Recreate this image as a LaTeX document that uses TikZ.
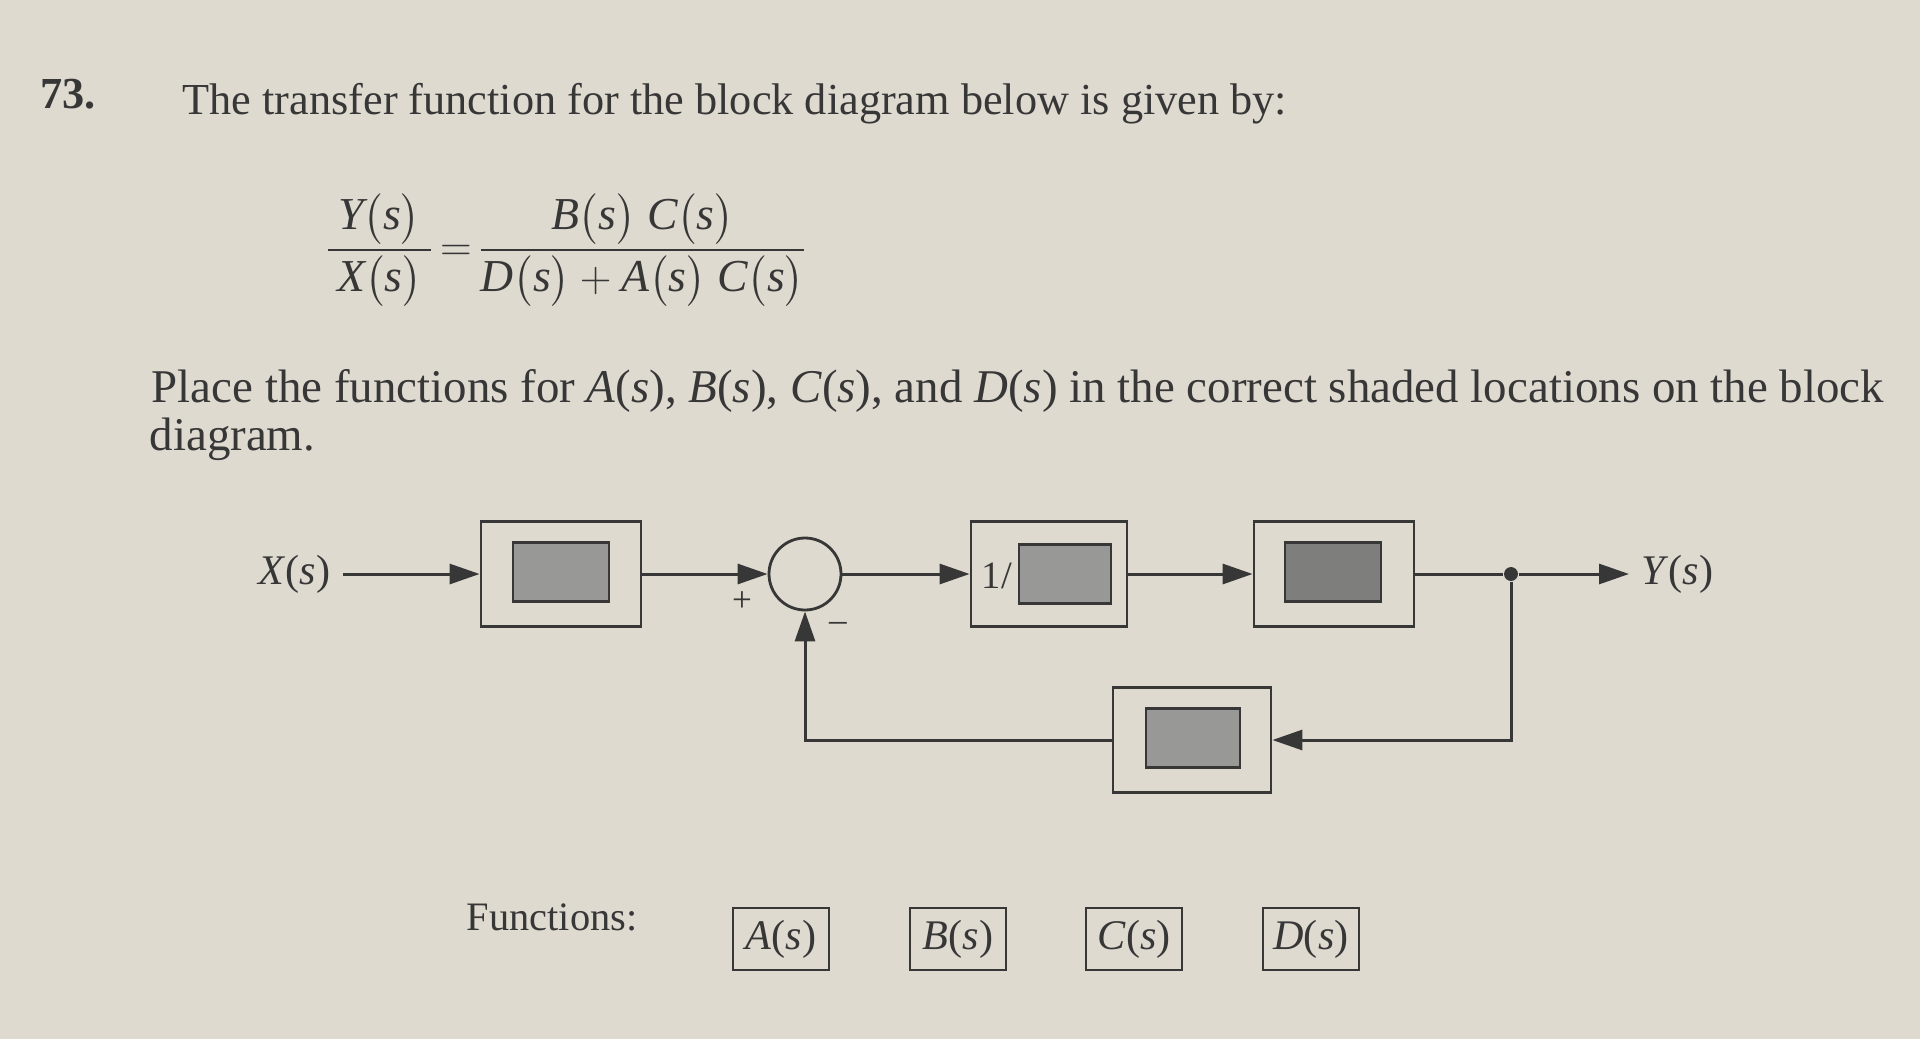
\documentclass[tikz,border=0pt]{standalone}
\usepackage{amsmath}
\usepackage{fontspec}
\setmainfont{Liberation Serif}
\usetikzlibrary{arrows.meta}

\definecolor{paper}{RGB}{223,218,208}
\definecolor{ink}{RGB}{55,55,55}
\definecolor{shade}{RGB}{152,152,150}
\definecolor{shadedark}{RGB}{126,126,124}

\newcommand{\fnof}[1]{\textit{#1}(\textit{s})}
\newcommand{\bigfn}[1]{\textit{#1}\bigl(\textit{s}\bigr)}

\begin{document}
\begin{tikzpicture}[
    outerblk/.style={draw=ink,line width=0.8pt,minimum width=1.6cm,minimum height=1.05cm,inner sep=0pt},
    grayblk/.style={draw=ink,fill=shade,line width=0.8pt,minimum width=0.96cm,minimum height=0.59cm,inner sep=0pt},
    sumnode/.style={draw=ink,line width=0.8pt,circle,minimum size=0.72cm,inner sep=0pt},
    fnbox/.style={draw=ink,line width=0.8pt,minimum width=0.96cm,minimum height=0.62cm,inner sep=0pt,text=ink,font=\fontsize{12}{14}\selectfont},
    lbl/.style={text=ink,inner sep=1.2mm,font=\fontsize{12}{14}\selectfont},
    txt/.style={text=ink,inner sep=0pt,font=\fontsize{12.6}{15}\selectfont},
    wire/.style={draw=ink,line width=0.85pt},
    arr/.style={wire,-{Triangle[length=3mm,width=2mm]}}
  ]
  \fill[paper] (0,0) rectangle (19.2,-10.39);

  % question text
  \node[txt,anchor=base west,font=\fontsize{12.6}{15}\selectfont\bfseries] (qnum) at (0.40,-1.08) {73.};
  \node[txt,anchor=base west] (title) at (1.82,-1.14) {The transfer function for the block diagram below is given by:};
  \node[txt,font=\fontsize{13}{16}\selectfont] (eq) at (5.66,-2.50)
    {$\dfrac{\:\bigfn{Y}\:}{\:\bigfn{X}\:}\!=\!\dfrac{\bigfn{B}\;\bigfn{C}}{\bigfn{D}+\bigfn{A}\;\bigfn{C}}$};
  \node[txt,anchor=base west,font=\fontsize{13.35}{16}\selectfont] (task) at (1.51,-4.02) {Place the functions for \fnof{A}, \fnof{B}, \fnof{C}, and \fnof{D} in the correct shaded locations on the block};
  \node[txt,anchor=base west,font=\fontsize{13.35}{16}\selectfont] (task2) at (1.49,-4.50) {diagram.};

  % blocks
  \node[outerblk] (b1) at (5.61,-5.74) {};
  \node[grayblk] (g1) at (5.61,-5.72) {};
  \node[sumnode] (sum) at (8.05,-5.74) {};
  \node[outerblk,minimum width=1.56cm] (b3) at (10.49,-5.74) {};
  \node[grayblk,minimum width=0.92cm] (g3) at (10.65,-5.74) {};
  \node[lbl,inner sep=0pt,font=\fontsize{11}{13}\selectfont] (inv) at (9.97,-5.76) {1/};
  \node[outerblk] (b4) at (13.34,-5.74) {};
  \node[grayblk,fill=shadedark] (g4) at (13.33,-5.72) {};
  \node[outerblk,minimum width=1.58cm] (b5) at (11.92,-7.40) {};
  \node[grayblk,minimum width=0.94cm] (g5) at (11.93,-7.38) {};
  \node[circle,fill=ink,inner sep=1.4pt] (tap) at (15.11,-5.74) {};

  \node[lbl,anchor=east] (xin) at (3.43,-5.74) {\fnof{X}};
  \node[lbl,anchor=west] (yout) at (16.29,-5.74) {\fnof{Y}};
  \node[lbl,inner sep=0pt,font=\fontsize{10}{12}\selectfont] (plus) at (7.42,-6.02) {+};
  \node[lbl,inner sep=0pt,font=\fontsize{10}{12}\selectfont] (minus) at (8.38,-6.27) {--};

  % signal flow
  \draw[arr] (xin) -- (b1);
  \draw[arr] (b1) -- (sum);
  \draw[arr] (sum) -- (b3);
  \draw[arr] (b3) -- (b4);
  \draw[wire] (b4) -- (tap);
  \draw[arr] (tap) -- (yout);
  \draw[arr] (tap) |- (b5);
  \draw[arr] (b5) -| (sum);

  % answer choices
  \node[txt,anchor=base west,font=\fontsize{11.5}{14}\selectfont] (fnlabel) at (4.66,-9.30) {Functions:};
  \foreach \f/\x in {A/7.81,B/9.58,C/11.34,D/13.11}
    \node[fnbox] (fn\f) at (\x,-9.39) {\fnof{\f}};
\end{tikzpicture}
\end{document}
